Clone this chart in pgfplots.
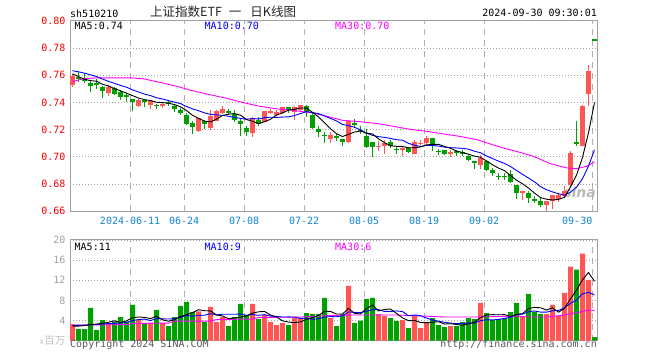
\documentclass[border=0pt]{standalone}
\usepackage{pgfplots}
\pgfplotsset{compat=1.18}
\usepackage{pgfplotstable}
\usepackage{fontspec}
\setmainfont{DejaVu Sans Mono}
\newfontfamily\mono{DejaVu Sans Mono}
\newfontfamily\sansf{DejaVu Sans}
\newfontfamily\cjk{Noto Sans CJK SC}
\newcommand\tf{\mono\fontsize{10bp}{12bp}\selectfont}
\definecolor{upred}{RGB}{255,85,85}
\definecolor{dngreen}{RGB}{0,160,0}
\definecolor{fgray}{RGB}{160,160,160}
\definecolor{ggray}{RGB}{175,175,175}
\definecolor{datecol}{RGB}{16,132,212}
\definecolor{mablue}{RGB}{0,0,255}
\definecolor{mamag}{RGB}{255,0,255}

\pgfplotstableread{
i O H L C V
0 0.753 0.761 0.751 0.7596 3.3
6 0.7469 0.753 0.745 0.751 3.3
11 0.7375 0.7425 0.7365 0.742 4.2
13 0.7378 0.741 0.7351 0.7407 3.6
15 0.737 0.740 0.7358 0.7388 3.5
21 0.7192 0.7285 0.718 0.7285 5.8
23 0.7214 0.7341 0.7197 0.730 6.7
24 0.7265 0.7346 0.726 0.734 3.7
25 0.7325 0.737 0.7312 0.735 4.7
30 0.7175 0.7292 0.7143 0.7285 7.3
32 0.7253 0.7339 0.7253 0.7339 5.1
33 0.7329 0.7353 0.7314 0.7333 3.7
34 0.7304 0.7346 0.7299 0.7333 3.1
35 0.7322 0.7366 0.7317 0.7366 3.5
37 0.7329 0.737 0.7268 0.7366 4.5
38 0.7346 0.7383 0.7334 0.7383 4.5
43 0.7133 0.7182 0.710 0.7157 4.5
46 0.7106 0.726 0.7101 0.726 10.9
51 0.7075 0.7113 0.704 0.7082 5.3
52 0.7082 0.7126 0.7023 0.7101 4.9
55 0.7047 0.7069 0.7006 0.7064 4.1
57 0.7023 0.7126 0.7023 0.7106 5.1
58 0.7098 0.7126 0.7089 0.7101 2.5
59 0.7101 0.7155 0.7089 0.7138 3.7
63 0.7023 0.7052 0.6998 0.7035 2.9
68 0.6937 0.7016 0.6912 0.6991 7.5
75 0.6734 0.6751 0.6685 0.6751 4.9
79 0.6644 0.6673 0.660 0.6673 5.3
80 0.6673 0.6722 0.6617 0.6722 7.1
81 0.6693 0.6734 0.6666 0.6722 4.9
82 0.6715 0.6783 0.6698 0.6751 9.5
83 0.6796 0.7045 0.6783 0.7028 14.7
85 0.7082 0.738 0.7077 0.7376 17.3
86 0.7464 0.7673 0.7376 0.7629 12.1
}\up

\pgfplotstableread{
i O H L C V
1 0.759 0.762 0.755 0.757 2.3
2 0.757 0.7615 0.7545 0.756 2.3
3 0.754 0.756 0.748 0.752 6.5
4 0.754 0.757 0.750 0.753 2.1
5 0.751 0.752 0.743 0.7486 4.1
7 0.7505 0.7515 0.7454 0.7461 3.8
8 0.7476 0.7493 0.7417 0.7437 4.7
9 0.7454 0.747 0.740 0.7444 3.8
10 0.7425 0.7425 0.734 0.740 7.1
12 0.742 0.7425 0.7367 0.740 3.3
14 0.738 0.739 0.7351 0.7378 6.1
16 0.7397 0.7412 0.737 0.7395 2.9
17 0.737 0.739 0.7333 0.7351 4.7
18 0.7341 0.7358 0.7307 0.7322 6.9
19 0.7309 0.7321 0.7233 0.7243 7.7
20 0.7248 0.7265 0.717 0.7216 5.7
22 0.726 0.7272 0.7204 0.7243 3.7
26 0.7333 0.7352 0.7312 0.7331 2.9
27 0.7314 0.7346 0.7253 0.7268 4.7
28 0.726 0.7277 0.7155 0.724 7.3
29 0.7211 0.7223 0.7155 0.7182 5.1
31 0.7268 0.7292 0.7226 0.7243 4.3
36 0.7366 0.7366 0.7322 0.7346 3.1
39 0.7376 0.7383 0.7292 0.7327 5.5
40 0.731 0.7322 0.7204 0.7211 5.3
41 0.7204 0.7229 0.7145 0.718 5.3
42 0.7159 0.7182 0.710 0.7155 8.5
44 0.7147 0.717 0.7114 0.7145 2.9
45 0.713 0.713 0.7077 0.7106 5.3
47 0.7245 0.7275 0.7211 0.7243 3.5
48 0.72 0.7223 0.7165 0.7192 4.0
49 0.7155 0.7204 0.7062 0.7075 8.3
50 0.7106 0.7106 0.6998 0.7069 8.5
53 0.7106 0.7121 0.7065 0.7077 4.5
54 0.7058 0.7077 0.7023 0.7055 3.9
56 0.7064 0.7069 0.7028 0.7033 2.5
60 0.7138 0.7138 0.704 0.7077 4.5
61 0.7042 0.7057 0.7016 0.704 3.1
62 0.7047 0.7052 0.7016 0.7023 2.7
64 0.7037 0.7052 0.7003 0.7035 2.9
65 0.703 0.7052 0.7008 0.7028 3.7
66 0.7003 0.7016 0.6969 0.6974 4.5
67 0.6966 0.6966 0.6912 0.6954 4.3
69 0.6966 0.6966 0.6893 0.6905 5.5
70 0.6905 0.6917 0.6856 0.688 4.1
71 0.6858 0.688 0.6832 0.6856 4.3
72 0.686 0.688 0.6832 0.6856 4.5
73 0.6876 0.6905 0.6807 0.6812 5.7
74 0.6795 0.6795 0.6692 0.6734 7.5
76 0.6734 0.6746 0.666 0.6697 9.3
77 0.6693 0.671 0.666 0.6673 5.7
78 0.6673 0.6698 0.6629 0.6644 5.3
84 0.7105 0.7262 0.7082 0.710 14.1
87 0.7862 0.7862 0.785 0.7858 0.7
}\dn

\pgfplotsset{
  kbase/.style={
    scale only axis, width=527bp,
    xmin=-0.4167, xmax=87.4167,
    clip mode=individual,
    axis line style={draw=fgray, line width=1bp},
    major tick length=0pt,
    xtick={9.6,18.6,28.6,38.6,48.6,58.6,68.6,86.6},
    xticklabels={},
    xmajorgrids, ymajorgrids,
    x grid style={draw=ggray, line width=1bp, dash pattern=on 6bp off 5bp},
    y grid style={draw=fgray, line width=0.8bp, dash pattern=on 1bp off 2bp},
    yticklabel style={font=\tf, anchor=east, inner sep=0pt, xshift=-4.3bp},
  },
  wick/.style={draw=none, mark=none, forget plot,
    error bars/.cd, y dir=both, y explicit, error mark=none,
    error bar style={draw=#1, line width=1bp, solid}},
  body/.style={draw=none, mark=none, forget plot,
    error bars/.cd, y dir=both, y explicit, error mark=none,
    error bar style={draw=#1, line width=5bp, solid}},
}

\begin{document}
\begin{tikzpicture}
\useasboundingbox (0bp,0bp) rectangle (660bp,360bp);

% watermark
\node[anchor=base east, inner sep=0pt, text=gray!55] at (596bp,162bp)
  {\sansf\bfseries\itshape\fontsize{14bp}{16bp}\selectfont sina};

% ---------------- price panel ----------------
\begin{axis}[kbase,
  at={(70bp,148.8bp)}, anchor=south west, height=190.4bp,
  ymin=0.66, ymax=0.80,
  ytick={0.66,0.68,0.70,0.72,0.74,0.76,0.78,0.80},
  yticklabels={0.66,0.68,0.70,0.72,0.74,0.76,0.78,0.80},
  yticklabel style={text=red},
]
\addplot[wick=upred] table[x=i, y expr={(\thisrow{H}+\thisrow{L})/2},
  y error expr={(\thisrow{H}-\thisrow{L})/2}] {\up};
\addplot[body=upred] table[x=i, y expr={(\thisrow{O}+\thisrow{C})/2},
  y error expr={max(abs(\thisrow{C}-\thisrow{O})/2,0.00037)}] {\up};
\addplot[wick=dngreen] table[x=i, y expr={(\thisrow{H}+\thisrow{L})/2},
  y error expr={(\thisrow{H}-\thisrow{L})/2}] {\dn};
\addplot[body=dngreen] table[x=i, y expr={(\thisrow{O}+\thisrow{C})/2},
  y error expr={max(abs(\thisrow{C}-\thisrow{O})/2,0.00037)}] {\dn};

% MA30
\addplot[mamag, line width=0.9bp, mark=none] coordinates {
(0,0.7554)(2,0.7575)(4,0.758)(10,0.758)(12,0.7572)(14.6,0.7547)(17.4,0.7518)(20,0.7486)
(23,0.7456)(26,0.7427)(28.5,0.7398)(31,0.7373)(34,0.7353)(37,0.734)(40,0.7322)(42.5,0.7297)
(45,0.7268)(48,0.7258)(51,0.7243)(53.5,0.7224)(56,0.7204)(59,0.7187)(62,0.7167)(64.6,0.715)
(67.4,0.7126)(70,0.7089)(72,0.7062)(74,0.704)(76.8,0.7004)(79.6,0.695)(82.4,0.6918)(84,0.6913)
(85.7,0.693)(87,0.6962)};
% MA10
\addplot[mablue, line width=0.9bp, mark=none] coordinates {
(0,0.7633)(1,0.7625)(2,0.7615)(3,0.7603)(4,0.759)(5,0.7572)(6,0.7555)(7,0.754)(8,0.7525)
(9,0.7512)(10,0.7492)(11,0.7477)(12,0.7461)(13,0.7450)(14,0.7434)(15,0.7425)(16,0.7413)
(17,0.7402)(18,0.7391)(19,0.7370)(20,0.7352)(21,0.7339)(22,0.7323)(23,0.7312)(24,0.7308)
(25,0.7305)(26,0.7298)(27,0.7290)(28,0.7282)(29,0.7276)(30,0.7282)(31,0.7278)(32,0.7288)
(33,0.7291)(34,0.7290)(35,0.7292)(36,0.7294)(37,0.7303)(38,0.7318)(39,0.7332)(40,0.7325)
(41,0.7318)(42,0.7300)(43,0.7282)(44,0.7264)(45,0.7238)(46,0.7229)(47,0.7217)(48,0.7198)
(49,0.7172)(50,0.7158)(51,0.7148)(52,0.7143)(53,0.7135)(54,0.7126)(55,0.7122)(56,0.7099)
(57,0.7085)(58,0.7076)(59,0.7083)(60,0.7083)(61,0.7079)(62,0.7071)(63,0.7067)(64,0.7065)
(65,0.7062)(66,0.7056)(67,0.7041)(68,0.7030)(69,0.7006)(70,0.6987)(71,0.6968)(72,0.6951)
(73,0.6929)(74,0.6899)(75,0.6871)(76,0.6844)(77,0.6816)(78,0.6781)(79,0.6758)(80,0.6742)
(81,0.6728)(82,0.6718)(83,0.6740)(84,0.6776)(85,0.6839)(86,0.6932)(87,0.7051)};
% MA5
\addplot[black, line width=0.9bp, mark=none] coordinates {
(0,0.761)(1,0.759)(2,0.757)(3,0.756)(4,0.7556)(5,0.7533)(6,0.7521)(7,0.7501)(8,0.7485)
(9,0.7468)(10,0.7450)(11,0.7432)(12,0.7420)(13,0.7414)(14,0.7401)(15,0.7399)(16,0.7394)
(17,0.7384)(18,0.7367)(19,0.7340)(20,0.7305)(21,0.7283)(22,0.7262)(23,0.7257)(24,0.7277)
(25,0.7304)(26,0.7313)(27,0.7318)(28,0.7306)(29,0.7274)(30,0.7261)(31,0.7244)(32,0.7258)
(33,0.7276)(34,0.7307)(35,0.7323)(36,0.7343)(37,0.7349)(38,0.7359)(39,0.7358)(40,0.7327)
(41,0.7293)(42,0.7251)(43,0.7206)(44,0.7170)(45,0.7149)(46,0.7165)(47,0.7182)(48,0.7189)
(49,0.7175)(50,0.7168)(51,0.7132)(52,0.7104)(53,0.7081)(54,0.7077)(55,0.7076)(56,0.7066)
(57,0.7067)(58,0.7072)(59,0.7088)(60,0.7091)(61,0.7092)(62,0.7076)(63,0.7063)(64,0.7042)
(65,0.7032)(66,0.7019)(67,0.7005)(68,0.6996)(69,0.6970)(70,0.6941)(71,0.6917)(72,0.6898)
(73,0.6862)(74,0.6828)(75,0.6802)(76,0.6770)(77,0.6733)(78,0.6700)(79,0.6688)(80,0.6682)
(81,0.6687)(82,0.6702)(83,0.6779)(84,0.6865)(85,0.6995)(86,0.7177)(87,0.7399)};
\end{axis}

% ---------------- volume panel ----------------
\begin{axis}[kbase,
  at={(70bp,19.3bp)}, anchor=south west, height=100.7bp,
  ymin=0, ymax=20,
  ytick={0,4,8,12,16,20},
  yticklabels={,4,8,12,16,20},
  yticklabel style={text=fgray},
]
\addplot[ybar, bar width=5bp, bar shift=0pt, fill=upred, draw=none, forget plot]
  table[x=i, y=V] {\up};
\addplot[ybar, bar width=5bp, bar shift=0pt, fill=dngreen, draw=none, forget plot]
  table[x=i, y=V] {\dn};
% MA30 vol
\addplot[mamag, line width=0.9bp, mark=none] coordinates {
(0,3.1)(9,3.2)(10,3.4)(16,3.5)(17,3.9)(23,3.9)(24,4.2)(30,4.3)(31,4.6)(38,4.7)(43,5.0)
(46,5.1)(54,5.1)(58.5,4.9)(62,4.7)(67,4.7)(71,4.8)(74,4.9)(76,4.7)(79,4.7)(82,5.1)
(84.6,5.7)(86,6.1)(87,6.0)};
% MA10 vol
\addplot[mablue, line width=0.9bp, mark=none] coordinates {
(0,3.0)(2,3.1)(4,3.2)(6,3.4)(8,3.5)(9,3.62)(10,4.00)(11,4.19)(12,4.29)(13,4.00)(14,4.40)
(15,4.34)(16,4.30)(17,4.39)(18,4.61)(19,5.00)(20,4.86)(21,5.02)(22,5.06)(23,5.37)(24,5.13)
(25,5.25)(26,5.25)(27,5.25)(28,5.29)(29,5.03)(30,5.19)(31,5.04)(32,5.18)(33,4.88)(34,4.82)
(35,4.70)(36,4.72)(37,4.70)(38,4.42)(39,4.46)(40,4.26)(41,4.36)(42,4.70)(43,4.78)(44,4.76)
(45,4.94)(46,5.72)(47,5.62)(48,5.57)(49,5.85)(50,6.17)(51,6.17)(52,5.81)(53,5.81)(54,5.91)
(55,5.79)(56,4.95)(57,5.11)(58,4.96)(59,4.50)(60,4.10)(61,3.88)(62,3.66)(63,3.50)(64,3.40)
(65,3.36)(66,3.56)(67,3.48)(68,3.98)(69,4.16)(70,4.12)(71,4.24)(72,4.42)(73,4.70)(74,5.16)
(75,5.28)(76,5.76)(77,5.90)(78,5.68)(79,5.66)(80,5.96)(81,6.02)(82,6.52)(83,7.42)(84,8.08)
(85,9.32)(86,9.60)(87,9.10)};
% MA5 vol
\addplot[black, line width=0.9bp, mark=none] coordinates {
(0,2.9)(1,2.9)(2,3.0)(3,3.2)(4,3.30)(5,3.46)(6,3.66)(7,3.96)(8,3.60)(9,3.94)(10,4.54)
(11,4.72)(12,4.62)(13,4.40)(14,4.86)(15,4.14)(16,3.88)(17,4.16)(18,4.82)(19,5.14)(20,5.58)
(21,6.16)(22,5.96)(23,5.92)(24,5.12)(25,4.92)(26,4.34)(27,4.54)(28,4.66)(29,4.94)(30,5.46)
(31,5.74)(32,5.82)(33,5.10)(34,4.70)(35,3.94)(36,3.70)(37,3.58)(38,3.74)(39,4.22)(40,4.58)
(41,5.02)(42,5.82)(43,5.82)(44,5.30)(45,5.30)(46,6.42)(47,5.42)(48,5.32)(49,6.40)(50,7.04)
(51,5.92)(52,6.20)(53,6.30)(54,5.42)(55,4.54)(56,3.98)(57,4.02)(58,3.62)(59,3.58)(60,3.66)
(61,3.78)(62,3.30)(63,3.38)(64,3.22)(65,3.06)(66,3.34)(67,3.66)(68,4.58)(69,5.10)(70,5.18)
(71,5.14)(72,5.18)(73,4.82)(74,5.22)(75,5.38)(76,6.38)(77,6.62)(78,6.54)(79,6.10)(80,6.54)
(81,5.66)(82,6.42)(83,8.30)(84,10.06)(85,12.10)(86,13.54)(87,11.78)};
\end{axis}

% ---------------- texts ----------------
\begin{scope}[x=1bp, y=1bp, every node/.style={inner sep=0pt, font=\tf}]
\node[anchor=base west] at (70,343) {sh510210};
\node[anchor=base west, text=black!85] at (150,344)
  {\cjk\fontsize{12.5bp}{14bp}\selectfont 上证指数ETF\hspace{7bp}一\hspace{9bp}日K线图};
\node[anchor=base east] at (597,343.5) {2024-09-30 09:30:01};
\node[anchor=base west] at (74.5,330.3) {MA5:0.74};
\node[anchor=base west, text=mablue] at (204.5,330.3) {MA10:0.70};
\node[anchor=base west, text=mamag] at (335,330.3) {MA30:0.70};
\node[anchor=base west] at (74.5,109.5) {MA5:11};
\node[anchor=base west, text=mablue] at (204.5,109.5) {MA10:9};
\node[anchor=base west, text=mamag] at (335,109.5) {MA30:6};
\node[anchor=base, text=datecol] at (130.1,135.7) {2024-06-11};
\node[anchor=base, text=datecol] at (184.1,135.7) {06-24};
\node[anchor=base, text=datecol] at (244.1,135.7) {07-08};
\node[anchor=base, text=datecol] at (304.1,135.7) {07-22};
\node[anchor=base, text=datecol] at (364.1,135.7) {08-05};
\node[anchor=base, text=datecol] at (424.1,135.7) {08-19};
\node[anchor=base, text=datecol] at (484.1,135.7) {09-02};
\node[anchor=base east, text=datecol] at (592.5,135.7) {09-30};
\node[anchor=east, text=black!25] at (65.5,19)
  {\fontsize{8bp}{9bp}\selectfont x\cjk\fontsize{10.5bp}{12bp}\selectfont 百万};
\node[anchor=base west, text=black!65] at (70,12.5) {Copyright 2024 SINA.COM};
\node[anchor=base east, text=black!65] at (597,12.5) {http://finance.sina.com.cn};
\end{scope}
\end{tikzpicture}
\end{document}
